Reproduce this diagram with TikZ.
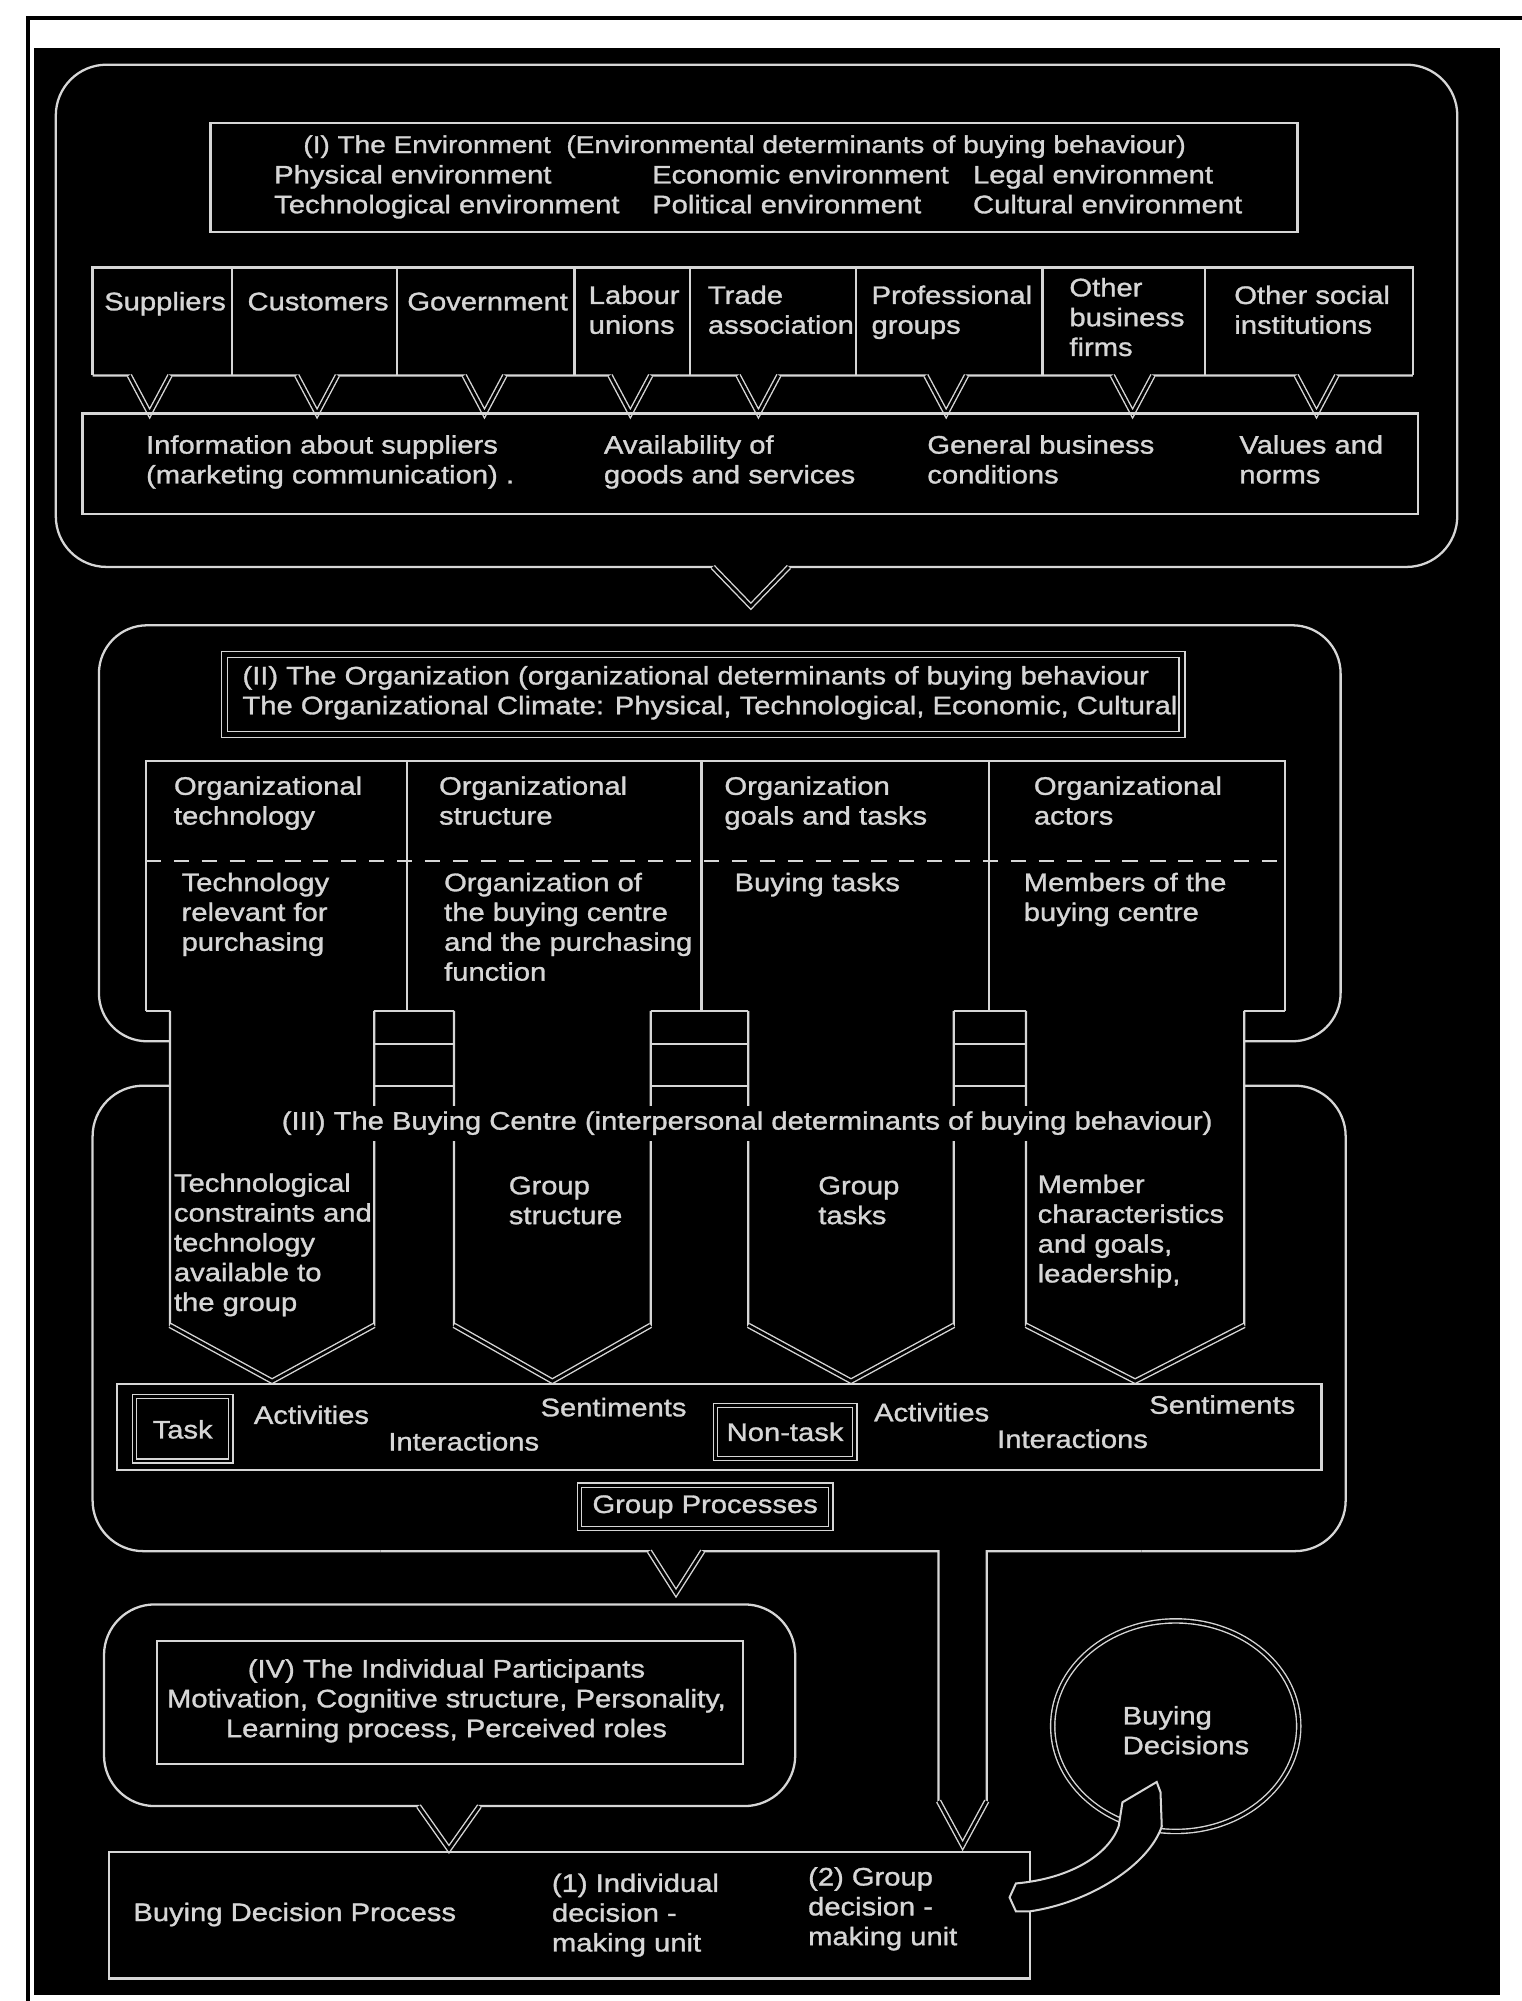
\documentclass[tikz,border=0pt]{standalone}
\usepackage{fontspec}
\setmainfont[FakeStretch=1.15,FakeBold=1.2]{Liberation Sans}
\definecolor{lc}{HTML}{D6D6D6}
\newcommand\myfnt{\fontsize{20}{23.5}\selectfont}
\newcommand\myhfnt{\fontsize{19.2}{23.5}\selectfont}
\begin{document}
\begin{tikzpicture}[x=1pt,y=-1pt,
  ln/.style={draw=lc, line width=1.8},
  dbl/.style={draw=lc, line width=1.1, double=black, double distance=2.2},
  tx/.style={anchor=north west, inner sep=0, align=left, font=\myfnt, text=lc},
  tc/.style={anchor=center, inner sep=0, align=center, font=\myfnt, text=lc}]
\useasboundingbox (0,0) rectangle (1200,1577.7);
\fill[white] (0,0) rectangle (1200,1577.7);
\fill[black] (27,38) rectangle (1183,1573);
\draw[black, line width=3] (22,1577.7) -- (22,14) -- (1200,14);

% ---------- Box I : environment ----------
\draw[ln, rounded corners=40] (44,51) rectangle (1149,447);
\fill[black] (564,443) rectangle (620,451);
\draw[dbl] (562,447) -- (592,478) -- (622,447);

\draw[ln] (166,97) rectangle (1023,183);
\node[tx, font=\myhfnt] (envt) at (239,104) {\strut(I) The Environment\ \ (Environmental determinants of buying behaviour)};
\node[tx] (env1) at (216,128) {\strut Physical environment\\Technological environment};
\node[tx] (env2) at (514,128) {\strut Economic environment\\Political environment};
\node[tx] (env3) at (767,128) {\strut Legal environment\\Cultural environment};

% row of environmental groups
\draw[ln] (73,296) -- (73,211) -- (1114,211) -- (1114,296);
\foreach \x in {183,313,453,544,675,822,950} \draw[ln] (\x,211) -- (\x,296);
\draw[ln] (73,296) -- (102,296) -- (118,326) -- (134,296) -- (234,296) -- (250,326) -- (266,296)
  -- (366,296) -- (382,326) -- (398,296) -- (481,296) -- (497,326) -- (513,296)
  -- (582,296) -- (598,326) -- (614,296) -- (730,296) -- (746,326) -- (762,296)
  -- (877,296) -- (893,326) -- (909,296) -- (1022,296) -- (1038,326) -- (1054,296) -- (1114,296);
\foreach \a in {118,250,382,497,598,746,893,1038} \draw[dbl] (\a-16,296) -- (\a,326) -- (\a+16,296);

\node[tx] (g1) at (82,228) {\strut Suppliers};
\node[tx] (g2) at (195,228) {\strut Customers};
\node[tx] (g3) at (321,228) {\strut Government};
\node[tx] (g4) at (464,223) {\strut Labour\\unions};
\node[tx] (g5) at (558,223) {\strut Trade\\association};
\node[tx] (g6) at (687,223) {\strut Professional\\groups};
\node[tx] (g7) at (843,217) {\strut Other\\business\\firms};
\node[tx] (g8) at (973,223) {\strut Other social\\institutions};

\draw[ln] (65,326) rectangle (1118,405);
\node[tx] (i1) at (115,341) {\strut Information about suppliers\\(marketing communication) .};
\node[tx] (i2) at (476,341) {\strut Availability of\\goods and services};
\node[tx] (i3) at (731,341) {\strut General business\\conditions};
\node[tx] (i4) at (977,341) {\strut Values and\\norms};

% ---------- Box II : organization ----------
\draw[ln, rounded corners=38] (134,821) -| (78,493) -| (1057,821) -- (981,821);
\draw[dbl, double distance=3.5] (177,516) rectangle (932,579);
\node[tx] (orgt) at (191,523) {\strut(II) The Organization (organizational determinants of buying behaviour\\The Organizational Climate: Physical, Technological, Economic, Cultural};

\draw[ln] (115,797) -- (115,600) -- (1013,600) -- (1013,797);
\foreach \x in {321,553,780} \draw[ln] (\x,600) -- (\x,797);
\draw[ln, dash pattern=on 12 off 10] (115,679) -- (1013,679);
\draw[ln] (115,797) -- (134,797);
\draw[ln] (981,797) -- (1013,797);
\foreach \a/\b in {295/358,513/590,752/809} {
  \draw[ln] (\a,797) -- (\b,797);
  \draw[ln] (\a,823) -- (\b,823);
  \draw[ln] (\a,856) -- (\b,856);
}

\node[tx] (o1) at (137,610) {\strut Organizational\\technology};
\node[tx] (o2) at (346,610) {\strut Organizational\\structure};
\node[tx] (o3) at (571,610) {\strut Organization\\goals and tasks};
\node[tx] (o4) at (815,610) {\strut Organizational\\actors};
\node[tx] (o5) at (143,686) {\strut Technology\\relevant for\\purchasing};
\node[tx] (o6) at (350,686) {\strut Organization of\\the buying centre\\and the purchasing\\function};
\node[tx] (o7) at (579,686) {\strut Buying tasks};
\node[tx] (o8) at (807,686) {\strut Members of the\\buying centre};

% ---------- Box III : buying centre ----------
\draw[ln, rounded corners=40] (134,856) -| (73,1223) -- (300,1223);
\draw[ln] (300,1223) -- (512,1223) -- (533,1256) -- (554,1223) -- (740,1223) -- (740,1420)
  -- (759,1455) -- (778,1420) -- (778,1223) -- (900,1223);
\draw[dbl] (512,1223) -- (533,1256) -- (554,1223);
\draw[dbl] (740,1420) -- (759,1455) -- (778,1420);
\draw[ln, rounded corners=40] (900,1223) -| (1061,856) -- (981,856);

\foreach \l/\r in {134/295,358/513,590/752,809/981} {
  \draw[ln] (\l,797) -- (\l,1045) -- ({(\l+\r)/2},1089) -- (\r,1045) -- (\r,797);
  \draw[dbl] (\l,1045) -- ({(\l+\r)/2},1089) -- (\r,1045);
}

\node[tx, fill=black, inner sep=2] (bct) at (220,872) {\strut(III) The Buying Centre (interpersonal determinants of buying behaviour)};

\node[tx] (b1) at (137,923) {\strut Technological\\constraints and\\technology\\available to\\the group};
\node[tx] (b2) at (401,925) {\strut Group\\structure};
\node[tx] (b3) at (645,925) {\strut Group\\tasks};
\node[tx] (b4) at (818,924) {\strut Member\\characteristics\\and goals,\\leadership,};

\draw[ln] (92,1091) rectangle (1042,1159);
\draw[dbl] (106,1101) rectangle (182,1152);
\node[tc] (task) at (144,1127) {Task};
\node[tx] (a1) at (200,1106) {\strut Activities};
\node[tx] (a2) at (306,1127) {\strut Interactions};
\node[tx] (a3) at (426,1100) {\strut Sentiments};
\draw[dbl] (564,1108) rectangle (674,1150);
\node[tc] (ntask) at (619,1129) {Non-task};
\node[tx] (a4) at (689,1104) {\strut Activities};
\node[tx] (a5) at (786,1125) {\strut Interactions};
\node[tx] (a6) at (906,1098) {\strut Sentiments};

\draw[dbl] (457,1171) rectangle (655,1205);
\node[tc] (gp) at (556,1188) {Group Processes};

% ---------- Box IV : individual participants ----------
\draw[ln, rounded corners=40] (82,1265) rectangle (627,1424);
\fill[black] (332,1420) rectangle (376,1428);
\draw[dbl] (330,1424) -- (354,1458) -- (378,1424);
\draw[ln] (124,1294) rectangle (586,1391);
\node[tc, anchor=north] (ind) at (352,1306) {\strut(IV) The Individual Participants\\Motivation, Cognitive structure, Personality,\\Learning process, Perceived roles};

% ---------- buying decision process ----------
\draw[ln] (86,1460) rectangle (812,1560);
\node[tx] (bdp) at (105,1498) {\strut Buying Decision Process};
\node[tx] (u1) at (435,1475) {\strut(1) Individual\\decision -\\making unit};
\node[tx] (u2) at (637,1470) {\strut(2) Group\\decision -\\making unit};

% ---------- buying decisions ----------
\draw[dbl] (927,1361) ellipse [x radius=97, y radius=83];
\node[tx] (bd) at (885,1343) {\strut Buying\\Decisions};
\filldraw[fill=black, draw=lc, line width=1.6] (812,1507) -- (801,1507) -- (796,1496) -- (801,1485)
  .. controls (845,1481) and (874,1462) .. (882,1440) -- (885,1421) -- (912,1405) -- (915,1413)
  -- (916,1440) .. controls (906,1470) and (860,1500) .. (812,1507) -- cycle;
\end{tikzpicture}
\end{document}
